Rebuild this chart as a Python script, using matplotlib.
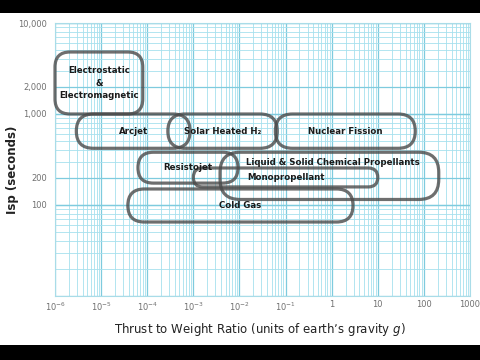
import numpy as np
import matplotlib
matplotlib.use("Agg")
import matplotlib.pyplot as plt
from matplotlib.patches import FancyBboxPatch, Rectangle
from matplotlib.transforms import IdentityTransform
from matplotlib.ticker import LogLocator, NullFormatter, FixedLocator

# Propulsion system operating envelopes
systems = ["Electrostatic\n&\nElectromagnetic", "Arcjet", "Solar Heated H\u2082",
           "Nuclear Fission", "Resistojet", "Liquid & Solid Chemical Propellants",
           "Monopropellant", "Cold Gas"]
twr_low = [1.0e-6, 2.9e-6, 2.8e-4, 0.06, 6.3e-5, 3.8e-3, 1.0e-3, 3.8e-5]
twr_high = [8.0e-5, 8.5e-4, 0.066, 65.0, 9.3e-3, 210.0, 10.0, 2.9]
isp_low = [1000, 420, 420, 420, 174, 115, 158, 65]
isp_high = [4800, 1000, 1000, 1000, 380, 380, 255, 150]

y_ticks = [100, 200, 1000, 2000, 10000]
y_tick_labels = ["100", "200", "1,000", "2,000", "10,000"]
x_ticks = [1e-6, 1e-5, 1e-4, 1e-3, 1e-2, 1e-1, 1, 10, 100, 1000]
x_tick_labels = [r"$10^{-6}$", r"$10^{-5}$", r"$10^{-4}$", r"$10^{-3}$", r"$10^{-2}$",
                 r"$10^{-1}$", "1", "10", "100", "1000"]

W, H, DPI = 480, 360, 100
fig = plt.figure(figsize=(W / DPI, H / DPI), dpi=DPI, facecolor="white")

# letterbox bars
fig.patches.append(Rectangle((0, 1 - 13 / H), 1, 13 / H, transform=fig.transFigure,
                             facecolor="black", edgecolor="none", zorder=0))
fig.patches.append(Rectangle((0, 0), 1, 15 / H, transform=fig.transFigure,
                             facecolor="black", edgecolor="none", zorder=0))

left, right, top, bottom = 55, 470, 23, 296
ax = fig.add_axes([left / W, 1 - bottom / H, (right - left) / W, (bottom - top) / H])
ax.set_xscale("log")
ax.set_yscale("log")
ax.set_xlim(1e-6, 1e3)
ax.set_ylim(10, 1e4)

ax.xaxis.set_major_locator(FixedLocator(x_ticks))
ax.set_xticklabels(x_tick_labels)
ax.yaxis.set_major_locator(FixedLocator(y_ticks))
ax.set_yticklabels(y_tick_labels)
ax.xaxis.set_minor_locator(LogLocator(base=10, subs=np.arange(2, 10), numticks=20))
ax.yaxis.set_minor_locator(LogLocator(base=10, subs=np.arange(2, 10), numticks=20))
ax.xaxis.set_minor_formatter(NullFormatter())
ax.yaxis.set_minor_formatter(NullFormatter())

# graph-paper grid
for v in 10.0 ** np.arange(-6, 4):
    ax.axvline(v, color="#7ecbde", lw=0.9, zorder=0)
for v in 10.0 ** np.arange(1, 5):
    ax.axhline(v, color="#7ecbde", lw=0.9, zorder=0)
ax.grid(which="minor", color="#a6e0ee", lw=0.6, zorder=0)
ax.grid(which="major", axis="y", color="#7ecbde", lw=0.9, zorder=0)
ax.set_axisbelow(True)

for s in ax.spines.values():
    s.set_color("#a9dce8")
    s.set_linewidth(0.8)

ax.tick_params(which="both", length=0, labelcolor="#707070", labelsize=6)
ax.tick_params(axis="x", pad=3)
ax.tick_params(axis="y", pad=6)

ax.set_xlabel("Thrust to Weight Ratio (units of earth\u2019s gravity $g$)",
              fontsize=8.5, color="#222222")
ax.set_ylabel("Isp (seconds)", fontsize=8.5, color="#222222", fontweight="bold")
ax.xaxis.set_label_coords((260 - left) / (right - left), (bottom - 321) / (bottom - top))
ax.yaxis.set_label_coords((19 - left) / (right - left), (bottom - 170) / (bottom - top))

# box corner radii in pixels (others get full stadium ends)
corner_px = {systems[0]: 15, systems[5]: 20}
label_shift_px = {systems[5]: (3, 13)}

for name, x0, x1, y0, y1 in zip(systems, twr_low, twr_high, isp_low, isp_high):
    (px0, py0) = ax.transData.transform((x0, y0))
    (px1, py1) = ax.transData.transform((x1, y1))
    w, h = px1 - px0, py1 - py0
    r = corner_px.get(name, h / 2.0)
    box = FancyBboxPatch((px0, py0), w, h,
                         boxstyle=f"round,pad=0,rounding_size={r}",
                         transform=IdentityTransform(), fill=False,
                         edgecolor="#4a4a4a", alpha=0.8, lw=2.3, clip_on=False, zorder=3)
    ax.add_patch(box)
    dx, dy = label_shift_px.get(name, (0, 0))
    cx, cy = np.sqrt(x0 * x1), np.sqrt(y0 * y1)
    ax.annotate(name, (cx, cy), xytext=(dx * 72 / DPI, dy * 72 / DPI),
                textcoords="offset points", ha="center", va="center",
                fontsize=6.2, fontweight="bold", color="#1a1a1a",
                linespacing=1.5, zorder=4)

fig.savefig("out.png", dpi=DPI)
